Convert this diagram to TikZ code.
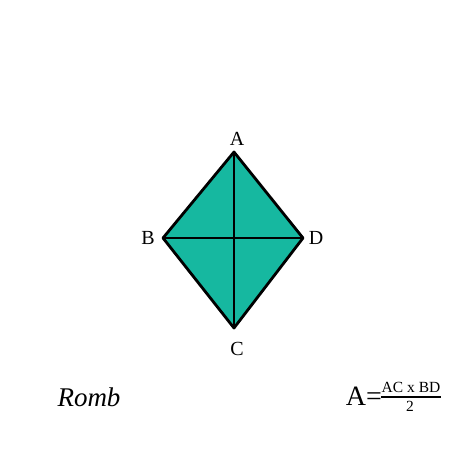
\documentclass[tikz,border=0pt]{standalone}
\usepackage{fontspec}
\setmainfont{Liberation Serif}
\definecolor{teal1}{HTML}{16B8A0}
\begin{document}
\begin{tikzpicture}[x=1pt,y=-1pt,
  lbl/.style={font=\fontsize{20}{20}\selectfont, inner sep=0pt},
  edge/.style={line width=2.8pt, line join=round, black},
  diag/.style={line width=2.3pt, black}]
\useasboundingbox (0,0) rectangle (474,474);
\coordinate (A) at (234,152);
\coordinate (B) at (163,238);
\coordinate (C) at (234,328);
\coordinate (D) at (303,238);
\fill[teal1] (A) -- (D) -- (C) -- (B) -- cycle;
\draw[diag] (A) -- (C);
\draw[diag] (B) -- (D);
\draw[edge] (A) -- (D) -- (C) -- (B) -- cycle;
\node[lbl] (lA) at (237,139) {A};
\node[lbl] (lB) at (148,238) {B};
\node[lbl] (lD) at (316,238) {D};
\node[lbl] (lC) at (237,349) {C};
\node[font=\fontsize{27}{27}\selectfont\itshape, inner sep=0pt, anchor=base] (romb) at (89,406) {Romb};
\node[font=\fontsize{28}{28}\selectfont, inner sep=0pt, anchor=base east] (aeq) at (382,405) {A=};
\node[font=\fontsize{15.5}{15.5}\selectfont, inner sep=0pt, anchor=base] (num) at (411,392) {AC x BD};
\node[font=\fontsize{15.5}{15.5}\selectfont, inner sep=0pt, anchor=base] (den) at (410,411) {2};
\draw[line width=1.5pt] (381,397) -- (441,397);
\end{tikzpicture}
\end{document}
